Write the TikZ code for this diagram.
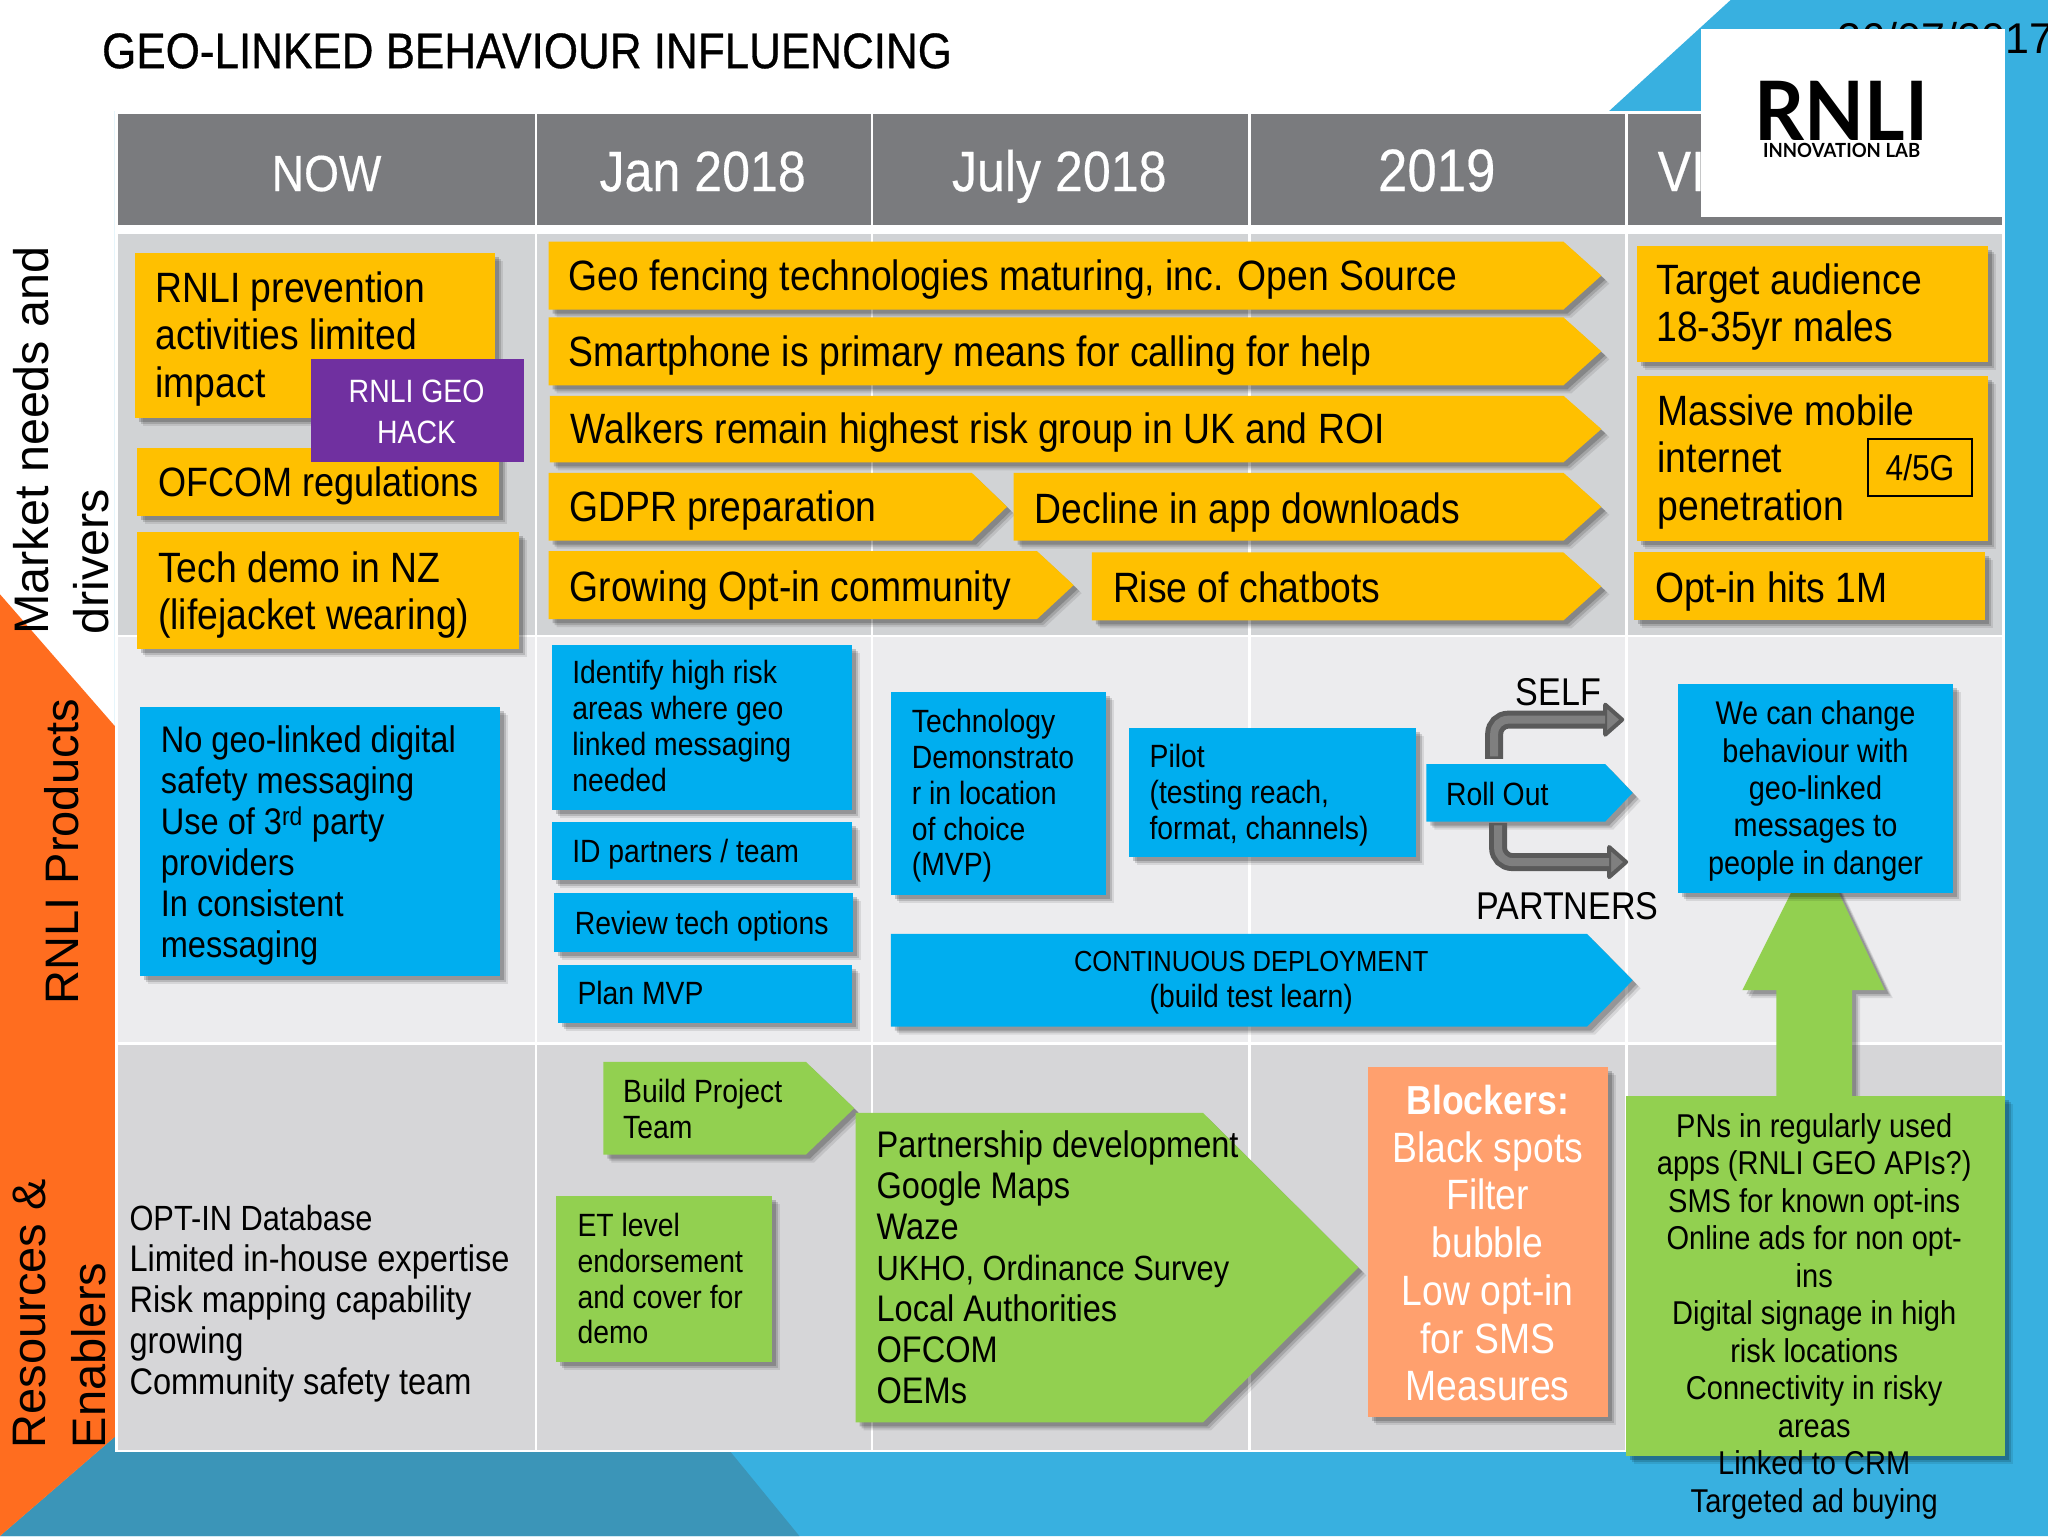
\documentclass[tikz,border=0pt]{standalone}
\usepackage{fontspec}
\setmainfont[FakeStretch=0.88]{Liberation Sans}
\newfontfamily\widefont{Liberation Sans}
\newfontfamily\titlefont[FakeStretch=0.88,FakeBold=0.6]{Liberation Sans}
\newfontfamily\hdrfont[FakeStretch=0.88,FakeBold=0.3]{Liberation Sans}
\newfontfamily\logofont[FakeStretch=0.95]{Lato}
\definecolor{skyb}{HTML}{38B0E0}
\definecolor{teal}{HTML}{3B95B8}
\definecolor{orng}{HTML}{FF6D1F}
\definecolor{hdr}{HTML}{7A7B7E}
\definecolor{rowa}{HTML}{D1D3D5}
\definecolor{rowb}{HTML}{ECECEE}
\definecolor{rowc}{HTML}{D6D6D8}
\definecolor{ylw}{HTML}{FFC000}
\definecolor{cyn}{HTML}{00AEEF}
\definecolor{grn}{HTML}{92D050}
\definecolor{prp}{HTML}{7030A0}
\definecolor{blk}{HTML}{FFA06E}
\definecolor{bentd}{HTML}{5A5A5A}
\definecolor{bentl}{HTML}{7F7F7F}
\newcommand\fsz[2]{\fontsize{#1}{#2}\selectfont}
\newcommand\capline[1]{{\fontsize{35}{41}\selectfont #1}}
\tikzset{
 x=1.3061pt,y=-1.3061pt,
 boxshadow/.style={
  preaction={fill=black,fill opacity=.09,transform canvas={xshift=8pt,yshift=-8pt}},
  preaction={fill=black,fill opacity=.14,transform canvas={xshift=6pt,yshift=-6pt}},
  preaction={fill=black,fill opacity=.18,transform canvas={xshift=4pt,yshift=-4pt}}},
 strutted/.style={execute at begin node=\strut,execute at end node=\strut},
 tl/.style={anchor=west,align=left,inner sep=0pt,text=black,strutted},
 tc/.style={anchor=center,align=center,inner sep=0pt,text=black,strutted},
 big/.style={font=\fsz{42.4}{47.7},yshift=-5.4pt},
 mid/.style={font=\fsz{37}{41},yshift=-4.6pt},
 sml/.style={font=\fsz{32.2}{35.8},yshift=-3.8pt},
 gsm/.style={font=\fsz{33}{37.5},yshift=-3.6pt},
 hd/.style={anchor=center,inner sep=0pt,text=white,font=\hdrfont\fsz{57}{62},strutted,yshift=-5pt},
 side/.style={inner sep=0pt,text=black,rotate=90,anchor=north west,align=left,font=\widefont\fsz{47}{60}},
 bentout/.style={draw=bentd,line width=18pt,rounded corners=14pt},
 bentin/.style={draw=bentl,line width=8pt,rounded corners=14pt},
 benthead/.style={draw=bentd,fill=bentl,line width=4pt,line join=round},
}
\newcommand\rbox[5]{\path[boxshadow,fill=#1] (#2,#3) rectangle (#4,#5);}
\newcommand\abox[6]{\path[boxshadow,fill=#1] (#2,#3) -- (#4,#3) -- (#5,{(#3+#6)/2}) -- (#4,#6) -- (#2,#6) -- cycle;}
\begin{document}
\begin{tikzpicture}
\useasboundingbox (0,0) rectangle (1568,1176);
\fill[white] (0,0) rectangle (1568,1176);
% backdrop
\fill[skyb] (1232,85) -- (1325,0) -- (1568,0) -- (1568,1176) -- (0,1176) -- (88,1100) -- (88,85) -- cycle;
\fill[teal] (0,1176) -- (88,1100) -- (558,1110) -- (612,1176) -- cycle;
\fill[orng] (0,455) -- (88,556) -- (88,1100) -- (0,1176) -- cycle;
\node[anchor=east,inner sep=0pt,text=black,font=\widefont\fsz{43}{50}] (datetxt) at (1572,29) {26/07/2017};
% frame and rows
\fill[white] (88,85) rectangle (1535,1112);
\fill[hdr] (90,87) rectangle (1533,172);
\fill[rowa] (90,179) rectangle (1533,486);
\fill[rowb] (90,488) rectangle (1533,798);
\fill[rowc] (90,800) rectangle (1533,1110);
\foreach \cx in {410.5,667.5,956.5,1245.5} \fill[white] (\cx-1,87) rectangle (\cx+1,1110);
% header
\node[hd,font=\hdrfont\fsz{51}{62}] (hnow) at (250,133) {NOW};
\node[hd] (hjan) at (538,133) {Jan 2018};
\node[hd] (hjul) at (811,133) {July 2018};
\node[hd,font=\hdrfont\fsz{60}{62}] (h19) at (1100,133) {2019};
\node[hd,anchor=west] (hvis) at (1269,133) {VISION};
% title
\node[anchor=west,inner sep=0pt,text=black,font=\titlefont\fsz{50}{56}] (title) at (78,39) {GEO-LINKED BEHAVIOUR INFLUENCING};
% logo
\fill[white] (1302,22) rectangle (1535,166);
\node[anchor=center,inner sep=0pt,text=black,font=\logofont\fsz{82}{82}\bfseries] (logoa) at (1410,85) {RNLI};
\node[anchor=center,inner sep=0pt,text=black,font=\logofont\fsz{19.5}{22}\bfseries] (logob) at (1410,115) {INNOVATION LAB};
% side labels
\node[side,font=\widefont\fsz{48.5}{60}] (sa) at (10,486) {Market needs and\\drivers};
\node[side] (sb) at (34,769) {RNLI Products};
\node[side] (sc) at (10,1109) {Resources \&\\Enablers};
% row one
\rbox{ylw}{103}{194}{379}{320}
\node[tl,big] (ya) at (119,257.5) {RNLI prevention\\activities limited\\impact};
\rbox{ylw}{105}{343}{382}{395}
\node[tl,big,font=\fsz{41}{47.7}] (yb) at (121,369) {OFCOM regulations};
\path[fill=prp] (238,275) rectangle (401,354);
\node[tc,text=white,font=\fsz{32.3}{40.5},yshift=-5.5pt] (hack) at (319,315.5) {RNLI GEO\\HACK};
\rbox{ylw}{105}{407}{397}{497}
\node[tl,big] (yc) at (121,453.5) {Tech demo in NZ\\(lifejacket wearing)};
\abox{ylw}{420}{185}{1197}{1226}{237}
\node[tl,big] (yd) at (435,211) {Geo fencing technologies maturing, inc. Open Source};
\abox{ylw}{420}{243}{1197}{1226}{295}
\node[tl,big] (ye) at (435,269) {Smartphone is primary means for calling for help};
\abox{ylw}{421}{303}{1197}{1226}{354}
\node[tl,big] (yf) at (437,328) {Walkers remain highest risk group in UK and ROI};
\abox{ylw}{420}{362}{744}{771}{414}
\node[tl,big] (yg) at (436,388) {GDPR preparation};
\abox{ylw}{776}{362}{1197}{1226}{414}
\node[tl,big] (yh) at (792,389) {Decline in app downloads};
\abox{ylw}{420}{422}{794}{822}{474}
\node[tl,big] (yi) at (436,449) {Growing Opt-in community};
\abox{ylw}{836}{423}{1197}{1226}{475}
\node[tl,big] (yj) at (852,450) {Rise of chatbots};
\rbox{ylw}{1253}{188}{1522}{277}
\node[tl,big] (yk) at (1268,233) {Target audience\\18-35yr males};
\rbox{ylw}{1253}{288}{1522}{414}
\node[tl,big] (yl) at (1269,351.5) {Massive mobile\\internet\\penetration};
\node[draw=black,line width=1.2pt,minimum width=104pt,minimum height=57pt,inner sep=0pt,text=black,font=\fsz{36}{40}] (fiveg) at (1470,358) {4/5G};
\rbox{ylw}{1251}{423}{1520}{475}
\node[tl,big] (ym) at (1267,450) {Opt-in hits 1M};
% row two
\rbox{cyn}{107}{541}{383}{747}
\node[tl,mid] (ba) at (123,645.5) {No geo-linked digital\\safety messaging\\Use of 3\textsuperscript{rd} party\\providers\\In consistent\\messaging};
\rbox{cyn}{423}{494}{652}{620}
\node[tl,sml] (bb) at (438,557) {Identify high risk\\areas where geo\\linked messaging\\needed};
\rbox{cyn}{423}{629}{652}{674}
\node[tl,sml] (bc) at (438,652) {ID partners / team};
\rbox{cyn}{424}{684}{653}{729}
\node[tl,sml] (bd) at (440,707) {Review tech options};
\rbox{cyn}{427}{739}{652}{783}
\node[tl,sml] (be) at (442,761) {Plan MVP};
\rbox{cyn}{682}{530}{847}{685}
\node[tl,sml] (bf) at (698,608) {Technology\\Demonstrato\\r in location\\of choice\\(MVP)};
\rbox{cyn}{864}{557}{1084}{656}
\node[tl,sml] (bg) at (880,607.5) {Pilot\\(testing reach,\\format, channels)};
\abox{cyn}{1092}{585}{1229}{1250}{629}
\node[tl,sml] (rollout) at (1107,608) {Roll Out};
\abox{cyn}{682}{715}{1215}{1250}{786}
\node[tc,sml] (cont) at (958,751) {{\fontsize{29}{35.8}\selectfont CONTINUOUS DEPLOYMENT}\\(build test learn)};
% bent arrows
\coordinate (selfstart) at (1144,581);
\coordinate (selfend) at (1229,551);
\coordinate (partstart) at (1147,630);
\coordinate (partend) at (1232,660);
\foreach \sa/\se/\sg in {selfstart/selfend/1,partstart/partend/-1}{
 \draw[bentout] (\sa) |- (\se);
 \path[benthead] (\se) ++(0,-11.5) -- ++(13,11.5) -- ++(-13,11.5) -- cycle;
 \draw[bentin] (\sa) ++(0,{-2*\sg}) |- (\se);
}
\node[anchor=center,inner sep=0pt,text=black,font=\fsz{38.7}{42}] (selflab) at (1193,530) {SELF};
\node[anchor=center,inner sep=0pt,text=black,font=\fsz{38.7}{42}] (partlab) at (1200,694) {PARTNERS};
% green up arrow then vision box
\path[boxshadow,fill=grn] (1390,646) -- (1443,758) -- (1418,758) -- (1418,850) -- (1360,850) -- (1360,758) -- (1334,758) -- cycle;
\rbox{cyn}{1285}{524}{1495}{684}
\node[tc,mid,font=\fsz{32.8}{37.4},yshift=1pt] (ba2) at (1390,604.5) {We can change\\behaviour with\\geo-linked\\messages to\\people in danger};
% row three
\node[tl,mid] (ca) at (99,996) {\capline{OPT-IN Database}\\Limited in-house expertise\\Risk mapping capability\\growing\\Community safety team};
\abox{grn}{462}{813}{617}{654}{884}
\node[tl,sml] (cb) at (477,850) {Build Project\\Team};
\rbox{grn}{426}{916}{591}{1043}
\node[tl,sml] (cc) at (442,980) {ET level\\endorsement\\and cover for\\demo};
\abox{grn}{655}{852}{921}{1040}{1089}
\node[tl,mid] (cd) at (671,971) {Partnership development\\Google Maps\\Waze\\\capline{UKHO, Ordinance Survey}\\Local Authorities\\OFCOM\\OEMs};
\rbox{blk}{1047}{817}{1231}{1085}
\node[tc,big,text=white] (blockers) at (1139,953) {{\fontsize{40.5}{47.7}\selectfont\bfseries Blockers:}\\Black spots\\Filter\\bubble\\Low opt-in\\for SMS\\Measures};
\rbox{grn}{1245}{839}{1535}{1115}
\node[tc,gsm] (vis) at (1389,1006.5) {PNs in regularly used\\apps (RNLI GEO APIs?)\\SMS for known opt-ins\\Online ads for non opt-\\ins\\Digital signage in high\\risk locations\\Connectivity in risky\\areas\\Linked to CRM\\Targeted ad buying};
\end{tikzpicture}
\end{document}
